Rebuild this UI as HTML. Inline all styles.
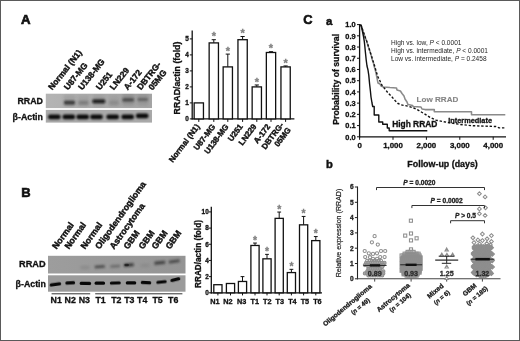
<!DOCTYPE html>
<html lang="en"><head><meta charset="utf-8"><title>RRAD figure</title>
<style>html,body{margin:0;padding:0;background:#fff;}body{width:520px;height:341px;overflow:hidden;}svg{display:block;font-family:'Liberation Sans', Arial, Helvetica, sans-serif;}</style></head><body>
<svg width="520" height="341" viewBox="0 0 520 341">
<defs><filter id="b0" x="-30%" y="-80%" width="160%" height="260%"><feGaussianBlur stdDeviation="0.7"/></filter><filter id="b1" x="-30%" y="-80%" width="160%" height="260%"><feGaussianBlur stdDeviation="0.9"/></filter><filter id="b2" x="-30%" y="-80%" width="160%" height="260%"><feGaussianBlur stdDeviation="1.4"/></filter><filter id="b3" x="-30%" y="-80%" width="160%" height="260%"><feGaussianBlur stdDeviation="2.2"/></filter><filter id="tb"><feGaussianBlur stdDeviation="0.3"/></filter><linearGradient id="gA" x1="0" x2="1" y1="0" y2="0"><stop offset="0" stop-color="#b4b4b4"/><stop offset="1" stop-color="#a4a4a4"/></linearGradient><linearGradient id="gB" x1="0" x2="1" y1="0" y2="0"><stop offset="0" stop-color="#9d9d9d"/><stop offset="1" stop-color="#949494"/></linearGradient></defs>
<rect x="0" y="0" width="520" height="341" fill="#fff"/>
<text x="20.90" y="23.50" font-size="13.2" font-weight="bold" text-anchor="start" fill="#111" stroke="#111" stroke-width="0.7">A</text>
<text x="21.30" y="197.10" font-size="13" font-weight="bold" text-anchor="start" fill="#111" stroke="#111" stroke-width="0.6">B</text>
<text x="303.20" y="23.50" font-size="12.8" font-weight="bold" text-anchor="start" fill="#111" stroke="#111" stroke-width="0.6">C</text>
<text x="326.00" y="24.90" font-size="11.5" font-weight="bold" text-anchor="start" fill="#111" stroke="#111" stroke-width="0.45">a</text>
<text x="326.10" y="168.10" font-size="11.2" font-weight="bold" text-anchor="start" fill="#111" stroke="#111" stroke-width="0.45">b</text>
<rect x="45.80" y="93.70" width="106.20" height="14.40" fill="url(#gA)" stroke="none" stroke-width="1"/>
<rect x="45.80" y="109.90" width="106.20" height="12.70" fill="#a9a9a9" stroke="none" stroke-width="1"/>
<clipPath id="cA1"><rect x="45.8" y="93.7" width="106.2" height="14.4"/></clipPath>
<clipPath id="cA2"><rect x="45.8" y="109.9" width="106.2" height="12.7"/></clipPath>
<g clip-path="url(#cA1)">
<rect x="63.75" y="95.00" width="11.5" height="12.0" rx="1.2" fill="#444" opacity="0.13" filter="url(#b2)"/>
<rect x="77.90" y="95.00" width="11.0" height="12.0" rx="1.2" fill="#444" opacity="0.1" filter="url(#b2)"/>
<rect x="92.80" y="95.00" width="12.0" height="12.0" rx="1.2" fill="#444" opacity="0.13" filter="url(#b2)"/>
<rect x="108.30" y="95.00" width="11.0" height="12.0" rx="1.2" fill="#444" opacity="0.08" filter="url(#b2)"/>
<rect x="64.00" y="100.70" width="11.0" height="3.8" rx="1.2" fill="#1c1c1c" opacity="0.78" filter="url(#b1)"/>
<rect x="78.40" y="101.00" width="10.0" height="3.6" rx="1.2" fill="#333" opacity="0.4" filter="url(#b2)"/>
<rect x="92.40" y="99.50" width="12.8" height="3.8" rx="1.2" fill="#080808" opacity="0.92" filter="url(#b1)"/>
<rect x="108.80" y="100.80" width="10.0" height="4.0" rx="1.2" fill="#444" opacity="0.25" filter="url(#b2)"/>
<rect x="122.45" y="98.20" width="11.5" height="3.2" rx="1.2" fill="#222" opacity="0.7" filter="url(#b1)"/>
<rect x="122.20" y="93.50" width="12.0" height="12.0" rx="1.2" fill="#444" opacity="0.22" filter="url(#b2)"/>
<rect x="137.45" y="97.90" width="10.5" height="3.0" rx="1.2" fill="#2a2a2a" opacity="0.5" filter="url(#b1)"/>
<rect x="137.20" y="93.50" width="11.0" height="12.0" rx="1.2" fill="#555" opacity="0.18" filter="url(#b2)"/>
</g>
<g clip-path="url(#cA2)">
<rect x="48.10" y="114.40" width="12.4" height="4.8" rx="1.8" fill="#050505" opacity="0.95" filter="url(#b1)"/>
<rect x="62.60" y="114.40" width="12.4" height="4.8" rx="1.8" fill="#050505" opacity="0.95" filter="url(#b1)"/>
<rect x="76.50" y="114.40" width="12.4" height="4.8" rx="1.8" fill="#050505" opacity="0.95" filter="url(#b1)"/>
<rect x="90.30" y="114.40" width="12.4" height="4.8" rx="1.8" fill="#050505" opacity="0.95" filter="url(#b1)"/>
<rect x="106.50" y="114.40" width="12.4" height="4.8" rx="1.8" fill="#050505" opacity="0.95" filter="url(#b1)"/>
<rect x="121.50" y="114.40" width="12.4" height="4.8" rx="1.8" fill="#050505" opacity="0.95" filter="url(#b1)"/>
<rect x="136.00" y="113.40" width="12.4" height="4.8" rx="1.8" fill="#050505" opacity="0.95" filter="url(#b1)"/>
</g>
<text x="42.90" y="104.30" font-size="8.8" font-weight="bold" text-anchor="end" fill="#111" stroke="#111" stroke-width="0.3">RRAD</text>
<text x="42.90" y="119.50" font-size="8.8" font-weight="bold" text-anchor="end" fill="#111" stroke="#111" stroke-width="0.3">β-Actin</text>
<text x="0" y="0" transform="translate(52.30,90.60) rotate(-51.5)" font-size="8.5" font-weight="bold" text-anchor="start" fill="#111" stroke="#111" stroke-width="0.42">Normal (N1)</text>
<text x="0" y="0" transform="translate(68.10,90.60) rotate(-51.5)" font-size="8.5" font-weight="bold" text-anchor="start" fill="#111" stroke="#111" stroke-width="0.42">U87-MG</text>
<text x="0" y="0" transform="translate(82.30,90.60) rotate(-51.5)" font-size="8.5" font-weight="bold" text-anchor="start" fill="#111" stroke="#111" stroke-width="0.42">U138-MG</text>
<text x="0" y="0" transform="translate(100.10,90.60) rotate(-51.5)" font-size="8.5" font-weight="bold" text-anchor="start" fill="#111" stroke="#111" stroke-width="0.42">U251</text>
<text x="0" y="0" transform="translate(113.80,90.60) rotate(-51.5)" font-size="8.5" font-weight="bold" text-anchor="start" fill="#111" stroke="#111" stroke-width="0.42">LN229</text>
<text x="0" y="0" transform="translate(127.80,90.60) rotate(-51.5)" font-size="8.5" font-weight="bold" text-anchor="start" fill="#111" stroke="#111" stroke-width="0.42">A-172</text>
<text x="0" y="0" transform="translate(140.90,90.60) rotate(-51.5)" font-size="8.5" font-weight="bold" text-anchor="start" fill="#111" stroke="#111" stroke-width="0.42">DBTRG-</text>
<text x="0" y="0" transform="translate(152.60,90.80) rotate(-51.5)" font-size="8.5" font-weight="bold" text-anchor="start" fill="#111" stroke="#111" stroke-width="0.42">05MG</text>
<line x1="192.20" y1="30.50" x2="192.20" y2="119.50" stroke="#111" stroke-width="1.3"/>
<line x1="191.60" y1="118.90" x2="294.40" y2="118.90" stroke="#111" stroke-width="1.3"/>
<line x1="189.80" y1="118.90" x2="192.20" y2="118.90" stroke="#111" stroke-width="1.0"/>
<text x="188.80" y="121.20" font-size="6.4" font-weight="bold" text-anchor="end" fill="#111" stroke="#111" stroke-width="0.3">0</text>
<line x1="189.80" y1="102.90" x2="192.20" y2="102.90" stroke="#111" stroke-width="1.0"/>
<text x="188.80" y="105.20" font-size="6.4" font-weight="bold" text-anchor="end" fill="#111" stroke="#111" stroke-width="0.3">1</text>
<line x1="189.80" y1="86.90" x2="192.20" y2="86.90" stroke="#111" stroke-width="1.0"/>
<text x="188.80" y="89.20" font-size="6.4" font-weight="bold" text-anchor="end" fill="#111" stroke="#111" stroke-width="0.3">2</text>
<line x1="189.80" y1="70.90" x2="192.20" y2="70.90" stroke="#111" stroke-width="1.0"/>
<text x="188.80" y="73.20" font-size="6.4" font-weight="bold" text-anchor="end" fill="#111" stroke="#111" stroke-width="0.3">3</text>
<line x1="189.80" y1="54.90" x2="192.20" y2="54.90" stroke="#111" stroke-width="1.0"/>
<text x="188.80" y="57.20" font-size="6.4" font-weight="bold" text-anchor="end" fill="#111" stroke="#111" stroke-width="0.3">4</text>
<line x1="189.80" y1="38.90" x2="192.20" y2="38.90" stroke="#111" stroke-width="1.0"/>
<text x="188.80" y="41.20" font-size="6.4" font-weight="bold" text-anchor="end" fill="#111" stroke="#111" stroke-width="0.3">5</text>
<text x="0" y="0" transform="translate(180.00,78.00) rotate(-90)" font-size="8.8" font-weight="bold" text-anchor="middle" fill="#111" stroke="#111" stroke-width="0.3">RRAD/actin (fold)</text>
<rect x="194.15" y="102.90" width="9.30" height="16.00" fill="#fff" stroke="#111" stroke-width="1.3"/>
<line x1="198.80" y1="118.90" x2="198.80" y2="121.90" stroke="#111" stroke-width="1.0"/>
<line x1="213.80" y1="42.90" x2="213.80" y2="39.70" stroke="#111" stroke-width="1.0"/>
<line x1="211.70" y1="39.70" x2="215.90" y2="39.70" stroke="#111" stroke-width="1.0"/>
<rect x="209.15" y="42.90" width="9.30" height="76.00" fill="#fff" stroke="#111" stroke-width="1.3"/>
<line x1="213.80" y1="118.90" x2="213.80" y2="121.90" stroke="#111" stroke-width="1.0"/>
<text x="213.80" y="40.30" font-size="11" font-weight="bold" text-anchor="middle" fill="#808080" stroke="#808080" stroke-width="0.3">*</text>
<line x1="227.80" y1="66.90" x2="227.80" y2="54.10" stroke="#111" stroke-width="1.0"/>
<line x1="225.70" y1="54.10" x2="229.90" y2="54.10" stroke="#111" stroke-width="1.0"/>
<rect x="223.15" y="66.90" width="9.30" height="52.00" fill="#fff" stroke="#111" stroke-width="1.3"/>
<line x1="227.80" y1="118.90" x2="227.80" y2="121.90" stroke="#111" stroke-width="1.0"/>
<text x="227.80" y="54.70" font-size="11" font-weight="bold" text-anchor="middle" fill="#808080" stroke="#808080" stroke-width="0.3">*</text>
<line x1="242.60" y1="39.70" x2="242.60" y2="36.50" stroke="#111" stroke-width="1.0"/>
<line x1="240.50" y1="36.50" x2="244.70" y2="36.50" stroke="#111" stroke-width="1.0"/>
<rect x="237.95" y="39.70" width="9.30" height="79.20" fill="#fff" stroke="#111" stroke-width="1.3"/>
<line x1="242.60" y1="118.90" x2="242.60" y2="121.90" stroke="#111" stroke-width="1.0"/>
<text x="242.60" y="37.10" font-size="11" font-weight="bold" text-anchor="middle" fill="#808080" stroke="#808080" stroke-width="0.3">*</text>
<line x1="256.80" y1="86.90" x2="256.80" y2="84.98" stroke="#111" stroke-width="1.0"/>
<line x1="254.70" y1="84.98" x2="258.90" y2="84.98" stroke="#111" stroke-width="1.0"/>
<rect x="252.15" y="86.90" width="9.30" height="32.00" fill="#fff" stroke="#111" stroke-width="1.3"/>
<line x1="256.80" y1="118.90" x2="256.80" y2="121.90" stroke="#111" stroke-width="1.0"/>
<text x="256.80" y="85.58" font-size="11" font-weight="bold" text-anchor="middle" fill="#808080" stroke="#808080" stroke-width="0.3">*</text>
<line x1="271.00" y1="52.50" x2="271.00" y2="51.70" stroke="#111" stroke-width="1.0"/>
<line x1="268.90" y1="51.70" x2="273.10" y2="51.70" stroke="#111" stroke-width="1.0"/>
<rect x="266.35" y="52.50" width="9.30" height="66.40" fill="#fff" stroke="#111" stroke-width="1.3"/>
<line x1="271.00" y1="118.90" x2="271.00" y2="121.90" stroke="#111" stroke-width="1.0"/>
<text x="271.00" y="52.30" font-size="11" font-weight="bold" text-anchor="middle" fill="#808080" stroke="#808080" stroke-width="0.3">*</text>
<line x1="285.60" y1="66.90" x2="285.60" y2="65.94" stroke="#111" stroke-width="1.0"/>
<line x1="283.50" y1="65.94" x2="287.70" y2="65.94" stroke="#111" stroke-width="1.0"/>
<rect x="280.95" y="66.90" width="9.30" height="52.00" fill="#fff" stroke="#111" stroke-width="1.3"/>
<line x1="285.60" y1="118.90" x2="285.60" y2="121.90" stroke="#111" stroke-width="1.0"/>
<text x="285.60" y="66.54" font-size="11" font-weight="bold" text-anchor="middle" fill="#808080" stroke="#808080" stroke-width="0.3">*</text>
<text x="0" y="0" transform="translate(200.10,126.70) rotate(-53)" font-size="8.0" font-weight="bold" text-anchor="end" fill="#111" stroke="#111" stroke-width="0.42">Normal (N1)</text>
<text x="0" y="0" transform="translate(215.70,126.70) rotate(-53)" font-size="8.0" font-weight="bold" text-anchor="end" fill="#111" stroke="#111" stroke-width="0.42">U87-MG</text>
<text x="0" y="0" transform="translate(229.10,126.70) rotate(-53)" font-size="8.0" font-weight="bold" text-anchor="end" fill="#111" stroke="#111" stroke-width="0.42">U138-MG</text>
<text x="0" y="0" transform="translate(243.30,126.70) rotate(-53)" font-size="8.0" font-weight="bold" text-anchor="end" fill="#111" stroke="#111" stroke-width="0.42">U251</text>
<text x="0" y="0" transform="translate(256.90,126.70) rotate(-53)" font-size="8.0" font-weight="bold" text-anchor="end" fill="#111" stroke="#111" stroke-width="0.42">LN229</text>
<text x="0" y="0" transform="translate(270.70,126.70) rotate(-53)" font-size="8.0" font-weight="bold" text-anchor="end" fill="#111" stroke="#111" stroke-width="0.42">A-172</text>
<text x="0" y="0" transform="translate(284.10,125.10) rotate(-53)" font-size="8.0" font-weight="bold" text-anchor="end" fill="#111" stroke="#111" stroke-width="0.42">DBTRG-</text>
<text x="0" y="0" transform="translate(291.30,129.90) rotate(-53)" font-size="8.0" font-weight="bold" text-anchor="end" fill="#111" stroke="#111" stroke-width="0.42">05MG</text>
<rect x="48.00" y="255.80" width="137.50" height="17.70" fill="url(#gB)" stroke="none" stroke-width="1"/>
<rect x="48.00" y="275.30" width="137.50" height="16.40" fill="#9b9b9b" stroke="none" stroke-width="1"/>
<clipPath id="cB1"><rect x="48.0" y="255.8" width="137.5" height="17.7"/></clipPath>
<clipPath id="cB2"><rect x="48.0" y="275.3" width="137.5" height="16.4"/></clipPath>
<g clip-path="url(#cB1)">
<rect x="80.50" y="266.00" width="9" height="3.0" rx="1.2" fill="#444" opacity="0.2" filter="url(#b2)" transform="rotate(0 85.0 267.5)"/>
<rect x="94.55" y="265.30" width="10.5" height="3.0" rx="1.2" fill="#222" opacity="0.6" filter="url(#b1)" transform="rotate(-4 99.8 266.8)"/>
<rect x="110.20" y="264.70" width="10.0" height="3.0" rx="1.2" fill="#333" opacity="0.4" filter="url(#b1)" transform="rotate(-4 115.2 266.2)"/>
<rect x="123.80" y="263.50" width="10.0" height="3.0" rx="1.2" fill="#111" opacity="0.72" filter="url(#b1)" transform="rotate(-5 128.8 265.0)"/>
<rect x="124.35" y="263.70" width="4.5" height="2.6" rx="1.2" fill="#000" opacity="0.55" filter="url(#b0)" transform="rotate(0 126.6 265.0)"/>
<rect x="140.50" y="263.90" width="9.0" height="3.0" rx="1.2" fill="#444" opacity="0.16" filter="url(#b2)" transform="rotate(-4 145.0 265.4)"/>
<rect x="154.30" y="261.10" width="11.0" height="3.4" rx="1.2" fill="#222" opacity="0.66" filter="url(#b1)" transform="rotate(-6 159.8 262.8)"/>
<rect x="168.70" y="259.70" width="11.0" height="3.4" rx="1.2" fill="#222" opacity="0.6" filter="url(#b1)" transform="rotate(-8 174.2 261.4)"/>
</g>
<g clip-path="url(#cB2)">
<rect x="49.65" y="282.80" width="11.5" height="3.2" rx="1.5" fill="#060606" opacity="0.95" filter="url(#b0)" transform="rotate(-8 55.4 284.4)"/>
<rect x="65.30" y="281.30" width="9.8" height="3.2" rx="1.5" fill="#060606" opacity="0.95" filter="url(#b0)" transform="rotate(-3 70.2 282.9)"/>
<rect x="79.65" y="281.80" width="11.5" height="3.2" rx="1.5" fill="#060606" opacity="0.95" filter="url(#b0)" transform="rotate(1 85.4 283.4)"/>
<rect x="94.55" y="281.50" width="10.5" height="3.2" rx="1.5" fill="#060606" opacity="0.95" filter="url(#b0)" transform="rotate(0 99.8 283.1)"/>
<rect x="109.80" y="281.40" width="11.0" height="3.2" rx="1.5" fill="#060606" opacity="0.95" filter="url(#b0)" transform="rotate(-2 115.3 283.0)"/>
<rect x="125.75" y="281.20" width="10.5" height="3.2" rx="1.5" fill="#060606" opacity="0.95" filter="url(#b0)" transform="rotate(0 131.0 282.8)"/>
<rect x="140.75" y="281.10" width="10.5" height="3.2" rx="1.5" fill="#060606" opacity="0.95" filter="url(#b0)" transform="rotate(3 146.0 282.7)"/>
<rect x="156.25" y="280.40" width="10.5" height="3.2" rx="1.5" fill="#060606" opacity="0.95" filter="url(#b0)" transform="rotate(-6 161.5 282.0)"/>
<rect x="170.30" y="278.00" width="10.0" height="3.2" rx="1.5" fill="#060606" opacity="0.95" filter="url(#b0)" transform="rotate(-14 175.3 279.6)"/>
</g>
<text x="45.60" y="267.40" font-size="9.2" font-weight="bold" text-anchor="end" fill="#111" stroke="#111" stroke-width="0.3">RRAD</text>
<text x="45.90" y="286.70" font-size="8.8" font-weight="bold" text-anchor="end" fill="#111" stroke="#111" stroke-width="0.3">β-Actin</text>
<line x1="51.60" y1="293.80" x2="90.20" y2="293.80" stroke="#333" stroke-width="1.0"/>
<line x1="95.20" y1="293.80" x2="182.40" y2="293.80" stroke="#333" stroke-width="1.0"/>
<text x="56.20" y="302.50" font-size="8.8" font-weight="bold" text-anchor="middle" fill="#111" stroke="#111" stroke-width="0.3">N1</text>
<text x="70.20" y="302.50" font-size="8.8" font-weight="bold" text-anchor="middle" fill="#111" stroke="#111" stroke-width="0.3">N2</text>
<text x="84.40" y="302.50" font-size="8.8" font-weight="bold" text-anchor="middle" fill="#111" stroke="#111" stroke-width="0.3">N3</text>
<text x="100.60" y="302.50" font-size="8.8" font-weight="bold" text-anchor="middle" fill="#111" stroke="#111" stroke-width="0.3">T1</text>
<text x="116.30" y="302.50" font-size="8.8" font-weight="bold" text-anchor="middle" fill="#111" stroke="#111" stroke-width="0.3">T2</text>
<text x="129.30" y="302.50" font-size="8.8" font-weight="bold" text-anchor="middle" fill="#111" stroke="#111" stroke-width="0.3">T3</text>
<text x="142.20" y="302.50" font-size="8.8" font-weight="bold" text-anchor="middle" fill="#111" stroke="#111" stroke-width="0.3">T4</text>
<text x="157.60" y="302.50" font-size="8.8" font-weight="bold" text-anchor="middle" fill="#111" stroke="#111" stroke-width="0.3">T5</text>
<text x="173.20" y="302.50" font-size="8.8" font-weight="bold" text-anchor="middle" fill="#111" stroke="#111" stroke-width="0.3">T6</text>
<text x="0" y="0" transform="translate(56.60,249.80) rotate(-54.5)" font-size="8.8" font-weight="bold" text-anchor="start" fill="#111" stroke="#111" stroke-width="0.42">Normal</text>
<text x="0" y="0" transform="translate(68.90,249.80) rotate(-54.5)" font-size="8.8" font-weight="bold" text-anchor="start" fill="#111" stroke="#111" stroke-width="0.42">Normal</text>
<text x="0" y="0" transform="translate(85.00,249.80) rotate(-54.5)" font-size="8.8" font-weight="bold" text-anchor="start" fill="#111" stroke="#111" stroke-width="0.42">Normal</text>
<text x="0" y="0" transform="translate(99.50,249.80) rotate(-54.5)" font-size="8.8" font-weight="bold" text-anchor="start" fill="#111" stroke="#111" stroke-width="0.42">Oligodendroglioma</text>
<text x="0" y="0" transform="translate(114.00,249.80) rotate(-54.5)" font-size="8.8" font-weight="bold" text-anchor="start" fill="#111" stroke="#111" stroke-width="0.42">Astrocytoma</text>
<text x="0" y="0" transform="translate(128.00,249.80) rotate(-54.5)" font-size="8.8" font-weight="bold" text-anchor="start" fill="#111" stroke="#111" stroke-width="0.42">GBM</text>
<text x="0" y="0" transform="translate(143.00,249.80) rotate(-54.5)" font-size="8.8" font-weight="bold" text-anchor="start" fill="#111" stroke="#111" stroke-width="0.42">GBM</text>
<text x="0" y="0" transform="translate(156.00,249.80) rotate(-54.5)" font-size="8.8" font-weight="bold" text-anchor="start" fill="#111" stroke="#111" stroke-width="0.42">GBM</text>
<text x="0" y="0" transform="translate(169.90,249.80) rotate(-54.5)" font-size="8.8" font-weight="bold" text-anchor="start" fill="#111" stroke="#111" stroke-width="0.42">GBM</text>
<line x1="211.30" y1="206.80" x2="211.30" y2="293.40" stroke="#111" stroke-width="1.3"/>
<line x1="210.70" y1="292.80" x2="322.00" y2="292.80" stroke="#111" stroke-width="1.3"/>
<line x1="208.90" y1="292.80" x2="211.30" y2="292.80" stroke="#111" stroke-width="1.0"/>
<text x="208.70" y="295.10" font-size="6.4" font-weight="bold" text-anchor="end" fill="#111" stroke="#111" stroke-width="0.3">0</text>
<line x1="208.90" y1="276.62" x2="211.30" y2="276.62" stroke="#111" stroke-width="1.0"/>
<text x="208.70" y="278.92" font-size="6.4" font-weight="bold" text-anchor="end" fill="#111" stroke="#111" stroke-width="0.3">2</text>
<line x1="208.90" y1="260.44" x2="211.30" y2="260.44" stroke="#111" stroke-width="1.0"/>
<text x="208.70" y="262.74" font-size="6.4" font-weight="bold" text-anchor="end" fill="#111" stroke="#111" stroke-width="0.3">4</text>
<line x1="208.90" y1="244.26" x2="211.30" y2="244.26" stroke="#111" stroke-width="1.0"/>
<text x="208.70" y="246.56" font-size="6.4" font-weight="bold" text-anchor="end" fill="#111" stroke="#111" stroke-width="0.3">6</text>
<line x1="208.90" y1="228.08" x2="211.30" y2="228.08" stroke="#111" stroke-width="1.0"/>
<text x="208.70" y="230.38" font-size="6.4" font-weight="bold" text-anchor="end" fill="#111" stroke="#111" stroke-width="0.3">8</text>
<line x1="208.90" y1="211.90" x2="211.30" y2="211.90" stroke="#111" stroke-width="1.0"/>
<text x="208.70" y="214.20" font-size="6.4" font-weight="bold" text-anchor="end" fill="#111" stroke="#111" stroke-width="0.3">10</text>
<text x="0" y="0" transform="translate(200.80,254.00) rotate(-90)" font-size="8.2" font-weight="bold" text-anchor="middle" fill="#111" stroke="#111" stroke-width="0.3">RRAD/actin (fold)</text>
<rect x="213.80" y="284.71" width="8.20" height="8.09" fill="#fff" stroke="#111" stroke-width="1.3"/>
<line x1="217.90" y1="292.80" x2="217.90" y2="295.40" stroke="#111" stroke-width="1.0"/>
<rect x="226.40" y="283.50" width="8.20" height="9.30" fill="#fff" stroke="#111" stroke-width="1.3"/>
<line x1="230.50" y1="292.80" x2="230.50" y2="295.40" stroke="#111" stroke-width="1.0"/>
<line x1="242.50" y1="281.47" x2="242.50" y2="276.62" stroke="#111" stroke-width="1.0"/>
<line x1="240.60" y1="276.62" x2="244.40" y2="276.62" stroke="#111" stroke-width="1.0"/>
<rect x="238.40" y="281.47" width="8.20" height="11.33" fill="#fff" stroke="#111" stroke-width="1.3"/>
<line x1="242.50" y1="292.80" x2="242.50" y2="295.40" stroke="#111" stroke-width="1.0"/>
<line x1="255.00" y1="245.47" x2="255.00" y2="243.05" stroke="#111" stroke-width="1.0"/>
<line x1="253.10" y1="243.05" x2="256.90" y2="243.05" stroke="#111" stroke-width="1.0"/>
<rect x="250.90" y="245.47" width="8.20" height="47.33" fill="#fff" stroke="#111" stroke-width="1.3"/>
<line x1="255.00" y1="292.80" x2="255.00" y2="295.40" stroke="#111" stroke-width="1.0"/>
<text x="255.00" y="243.95" font-size="10.4" font-weight="bold" text-anchor="middle" fill="#808080" stroke="#808080" stroke-width="0.3">*</text>
<line x1="267.00" y1="258.82" x2="267.00" y2="254.37" stroke="#111" stroke-width="1.0"/>
<line x1="265.10" y1="254.37" x2="268.90" y2="254.37" stroke="#111" stroke-width="1.0"/>
<rect x="262.90" y="258.82" width="8.20" height="33.98" fill="#fff" stroke="#111" stroke-width="1.3"/>
<line x1="267.00" y1="292.80" x2="267.00" y2="295.40" stroke="#111" stroke-width="1.0"/>
<text x="267.00" y="255.27" font-size="10.4" font-weight="bold" text-anchor="middle" fill="#808080" stroke="#808080" stroke-width="0.3">*</text>
<line x1="279.20" y1="218.37" x2="279.20" y2="212.06" stroke="#111" stroke-width="1.0"/>
<line x1="277.30" y1="212.06" x2="281.10" y2="212.06" stroke="#111" stroke-width="1.0"/>
<rect x="275.10" y="218.37" width="8.20" height="74.43" fill="#fff" stroke="#111" stroke-width="1.3"/>
<line x1="279.20" y1="292.80" x2="279.20" y2="295.40" stroke="#111" stroke-width="1.0"/>
<text x="279.20" y="212.96" font-size="10.4" font-weight="bold" text-anchor="middle" fill="#808080" stroke="#808080" stroke-width="0.3">*</text>
<line x1="291.40" y1="272.57" x2="291.40" y2="269.34" stroke="#111" stroke-width="1.0"/>
<line x1="289.50" y1="269.34" x2="293.30" y2="269.34" stroke="#111" stroke-width="1.0"/>
<rect x="287.30" y="272.57" width="8.20" height="20.23" fill="#fff" stroke="#111" stroke-width="1.3"/>
<line x1="291.40" y1="292.80" x2="291.40" y2="295.40" stroke="#111" stroke-width="1.0"/>
<text x="291.40" y="270.24" font-size="10.4" font-weight="bold" text-anchor="middle" fill="#808080" stroke="#808080" stroke-width="0.3">*</text>
<line x1="303.60" y1="224.84" x2="303.60" y2="216.43" stroke="#111" stroke-width="1.0"/>
<line x1="301.70" y1="216.43" x2="305.50" y2="216.43" stroke="#111" stroke-width="1.0"/>
<rect x="299.50" y="224.84" width="8.20" height="67.96" fill="#fff" stroke="#111" stroke-width="1.3"/>
<line x1="303.60" y1="292.80" x2="303.60" y2="295.40" stroke="#111" stroke-width="1.0"/>
<text x="303.60" y="217.33" font-size="10.4" font-weight="bold" text-anchor="middle" fill="#808080" stroke="#808080" stroke-width="0.3">*</text>
<line x1="315.80" y1="240.62" x2="315.80" y2="236.57" stroke="#111" stroke-width="1.0"/>
<line x1="313.90" y1="236.57" x2="317.70" y2="236.57" stroke="#111" stroke-width="1.0"/>
<rect x="311.70" y="240.62" width="8.20" height="52.18" fill="#fff" stroke="#111" stroke-width="1.3"/>
<line x1="315.80" y1="292.80" x2="315.80" y2="295.40" stroke="#111" stroke-width="1.0"/>
<text x="315.80" y="237.47" font-size="10.4" font-weight="bold" text-anchor="middle" fill="#808080" stroke="#808080" stroke-width="0.3">*</text>
<text x="214.80" y="303.80" font-size="7.3" font-weight="bold" text-anchor="middle" fill="#111" stroke="#111" stroke-width="0.3">N1</text>
<text x="228.00" y="303.80" font-size="7.3" font-weight="bold" text-anchor="middle" fill="#111" stroke="#111" stroke-width="0.3">N2</text>
<text x="241.60" y="303.80" font-size="7.3" font-weight="bold" text-anchor="middle" fill="#111" stroke="#111" stroke-width="0.3">N3</text>
<text x="254.70" y="303.80" font-size="7.3" font-weight="bold" text-anchor="middle" fill="#111" stroke="#111" stroke-width="0.3">T1</text>
<text x="267.30" y="303.80" font-size="7.3" font-weight="bold" text-anchor="middle" fill="#111" stroke="#111" stroke-width="0.3">T2</text>
<text x="279.80" y="303.80" font-size="7.3" font-weight="bold" text-anchor="middle" fill="#111" stroke="#111" stroke-width="0.3">T3</text>
<text x="292.40" y="303.80" font-size="7.3" font-weight="bold" text-anchor="middle" fill="#111" stroke="#111" stroke-width="0.3">T4</text>
<text x="304.90" y="303.80" font-size="7.3" font-weight="bold" text-anchor="middle" fill="#111" stroke="#111" stroke-width="0.3">T5</text>
<text x="317.40" y="303.80" font-size="7.3" font-weight="bold" text-anchor="middle" fill="#111" stroke="#111" stroke-width="0.3">T6</text>
<line x1="359.60" y1="24.00" x2="359.60" y2="137.40" stroke="#111" stroke-width="1.3"/>
<line x1="359.00" y1="136.80" x2="506.00" y2="136.80" stroke="#111" stroke-width="1.3"/>
<line x1="357.00" y1="136.80" x2="359.60" y2="136.80" stroke="#111" stroke-width="1.0"/>
<text x="355.60" y="139.50" font-size="7.4" font-weight="bold" text-anchor="end" fill="#111" stroke="#111" stroke-width="0.3">0.0</text>
<line x1="357.00" y1="125.58" x2="359.60" y2="125.58" stroke="#111" stroke-width="1.0"/>
<text x="355.60" y="128.28" font-size="7.4" font-weight="bold" text-anchor="end" fill="#111" stroke="#111" stroke-width="0.3">0.1</text>
<line x1="357.00" y1="114.36" x2="359.60" y2="114.36" stroke="#111" stroke-width="1.0"/>
<text x="355.60" y="117.06" font-size="7.4" font-weight="bold" text-anchor="end" fill="#111" stroke="#111" stroke-width="0.3">0.2</text>
<line x1="357.00" y1="103.14" x2="359.60" y2="103.14" stroke="#111" stroke-width="1.0"/>
<text x="355.60" y="105.84" font-size="7.4" font-weight="bold" text-anchor="end" fill="#111" stroke="#111" stroke-width="0.3">0.3</text>
<line x1="357.00" y1="91.92" x2="359.60" y2="91.92" stroke="#111" stroke-width="1.0"/>
<text x="355.60" y="94.62" font-size="7.4" font-weight="bold" text-anchor="end" fill="#111" stroke="#111" stroke-width="0.3">0.4</text>
<line x1="357.00" y1="80.70" x2="359.60" y2="80.70" stroke="#111" stroke-width="1.0"/>
<text x="355.60" y="83.40" font-size="7.4" font-weight="bold" text-anchor="end" fill="#111" stroke="#111" stroke-width="0.3">0.5</text>
<line x1="357.00" y1="69.48" x2="359.60" y2="69.48" stroke="#111" stroke-width="1.0"/>
<text x="355.60" y="72.18" font-size="7.4" font-weight="bold" text-anchor="end" fill="#111" stroke="#111" stroke-width="0.3">0.6</text>
<line x1="357.00" y1="58.26" x2="359.60" y2="58.26" stroke="#111" stroke-width="1.0"/>
<text x="355.60" y="60.96" font-size="7.4" font-weight="bold" text-anchor="end" fill="#111" stroke="#111" stroke-width="0.3">0.7</text>
<line x1="357.00" y1="47.04" x2="359.60" y2="47.04" stroke="#111" stroke-width="1.0"/>
<text x="355.60" y="49.74" font-size="7.4" font-weight="bold" text-anchor="end" fill="#111" stroke="#111" stroke-width="0.3">0.8</text>
<line x1="357.00" y1="35.82" x2="359.60" y2="35.82" stroke="#111" stroke-width="1.0"/>
<text x="355.60" y="38.52" font-size="7.4" font-weight="bold" text-anchor="end" fill="#111" stroke="#111" stroke-width="0.3">0.9</text>
<line x1="357.00" y1="24.60" x2="359.60" y2="24.60" stroke="#111" stroke-width="1.0"/>
<text x="355.60" y="27.30" font-size="7.4" font-weight="bold" text-anchor="end" fill="#111" stroke="#111" stroke-width="0.3">1.0</text>
<line x1="359.60" y1="136.80" x2="359.60" y2="139.80" stroke="#111" stroke-width="1.0"/>
<text x="359.60" y="148.20" font-size="7.9" font-weight="bold" text-anchor="middle" fill="#111" stroke="#111" stroke-width="0.3">0</text>
<line x1="393.00" y1="136.80" x2="393.00" y2="139.80" stroke="#111" stroke-width="1.0"/>
<text x="393.00" y="148.20" font-size="7.9" font-weight="bold" text-anchor="middle" fill="#111" stroke="#111" stroke-width="0.3">1,000</text>
<line x1="426.40" y1="136.80" x2="426.40" y2="139.80" stroke="#111" stroke-width="1.0"/>
<text x="426.40" y="148.20" font-size="7.9" font-weight="bold" text-anchor="middle" fill="#111" stroke="#111" stroke-width="0.3">2,000</text>
<line x1="459.80" y1="136.80" x2="459.80" y2="139.80" stroke="#111" stroke-width="1.0"/>
<text x="459.80" y="148.20" font-size="7.9" font-weight="bold" text-anchor="middle" fill="#111" stroke="#111" stroke-width="0.3">3,000</text>
<line x1="493.20" y1="136.80" x2="493.20" y2="139.80" stroke="#111" stroke-width="1.0"/>
<text x="493.20" y="148.20" font-size="7.9" font-weight="bold" text-anchor="middle" fill="#111" stroke="#111" stroke-width="0.3">4,000</text>
<text x="0" y="0" transform="translate(339.10,79.30) rotate(-90)" font-size="8.7" font-weight="bold" text-anchor="middle" fill="#111" stroke="#111" stroke-width="0.3">Probability of survival</text>
<text x="442.60" y="167.00" font-size="8.9" font-weight="bold" text-anchor="middle" fill="#111" stroke="#111" stroke-width="0.3">Follow-up (days)</text>
<text x="391.00" y="44.50" font-size="6.55" font-weight="normal" text-anchor="start" fill="#262626">High vs. low, <tspan font-style="italic">P</tspan> &lt; 0.0001</text>
<text x="391.00" y="52.50" font-size="6.55" font-weight="normal" text-anchor="start" fill="#262626">High vs. intermediate, <tspan font-style="italic">P</tspan> &lt; 0.0001</text>
<text x="391.00" y="60.50" font-size="6.55" font-weight="normal" text-anchor="start" fill="#262626">Low vs. intermediate, <tspan font-style="italic">P</tspan> = 0.2458</text>
<polyline points="360.4,24.6 361.4,26.0 362.2,28.5 363.1,31.5 364.4,35.0 365.6,38.5 366.8,41.4 367.8,45.0 368.8,48.0 369.9,51.3 370.8,54.0 371.6,57.0 372.3,59.9 373.0,61.5 373.5,63.0 374.0,66.0 375.0,69.0 376.0,73.0 377.0,78.0 378.0,83.0 380.0,84.0 381.0,86.0 383.5,87.0 390.0,87.6 396.5,88.0 397.0,90.0 400.4,91.0 402.0,93.5 404.0,96.0 405.0,99.0 407.0,102.0 408.0,104.6 412.7,105.4 413.0,106.6 421.0,107.0 422.0,109.0 425.0,109.6 434.3,109.6 434.3,111.8 471.5,111.8 471.5,114.8 505.3,114.8" fill="none" stroke="#8a8a8a" stroke-width="1.55" stroke-linejoin="round"/>
<polyline points="360.4,24.6 361.4,26.0 362.2,28.5 363.1,31.5 364.4,35.0 365.6,38.5 366.8,41.4 367.8,44.5 368.8,47.5 369.9,51.3 370.8,54.0 371.6,56.5 372.4,59.0 373.0,61.0 374.0,64.0 375.0,67.0 376.0,71.0 377.0,74.0 378.0,77.0 380.0,81.0 382.0,85.4 385.0,89.0 388.0,93.0 392.0,97.0 395.0,100.5 398.0,103.5 401.0,104.8 409.0,106.4 414.0,108.2 418.0,110.0 424.0,113.6 430.0,117.4 436.0,120.2 447.3,122.4 460.0,124.4 471.5,125.7 495.7,126.5 499.2,127.9 505.3,127.9" fill="none" stroke="#111" stroke-width="1.4" stroke-linejoin="round" stroke-dasharray="2.4 1.8"/>
<polyline points="360.4,24.6 361.2,26.0 361.9,28.5 362.5,31.5 363.4,36.0 364.3,41.4 364.8,46.0 365.3,51.3 365.8,56.0 366.2,60.0 367.0,66.0 368.0,70.0 368.8,75.4 369.6,84.0 370.4,91.0 371.0,97.0 372.0,103.0 372.7,106.5 374.2,106.5 374.2,115.0 378.8,115.0 378.8,122.0 382.7,122.0 382.7,124.2 387.3,124.2 387.3,128.0 389.2,128.0 389.2,130.7 427.3,130.7" fill="none" stroke="#111" stroke-width="1.4" stroke-linejoin="round"/>
<text x="416.60" y="101.80" font-size="8.1" font-weight="bold" text-anchor="start" fill="#858585" stroke="#858585" stroke-width="0.12">Low RRAD</text>
<text x="392.20" y="126.70" font-size="8.4" font-weight="bold" text-anchor="start" fill="#111" stroke="#111" stroke-width="0.3">High RRAD</text>
<text x="448.30" y="123.40" font-size="7.35" font-weight="bold" text-anchor="start" fill="#111" stroke="#111" stroke-width="0.3">Intermediate</text>
<line x1="357.50" y1="186.50" x2="357.50" y2="279.30" stroke="#222" stroke-width="1.1"/>
<line x1="357.00" y1="278.80" x2="500.50" y2="278.80" stroke="#444" stroke-width="1.1"/>
<line x1="354.90" y1="278.80" x2="357.50" y2="278.80" stroke="#222" stroke-width="1.0"/>
<text x="353.70" y="281.20" font-size="6.6" font-weight="bold" text-anchor="end" fill="#222" stroke="#222" stroke-width="0.3">0</text>
<line x1="354.90" y1="263.50" x2="357.50" y2="263.50" stroke="#222" stroke-width="1.0"/>
<text x="353.70" y="265.90" font-size="6.6" font-weight="bold" text-anchor="end" fill="#222" stroke="#222" stroke-width="0.3">1</text>
<line x1="354.90" y1="248.20" x2="357.50" y2="248.20" stroke="#222" stroke-width="1.0"/>
<text x="353.70" y="250.60" font-size="6.6" font-weight="bold" text-anchor="end" fill="#222" stroke="#222" stroke-width="0.3">2</text>
<line x1="354.90" y1="232.90" x2="357.50" y2="232.90" stroke="#222" stroke-width="1.0"/>
<text x="353.70" y="235.30" font-size="6.6" font-weight="bold" text-anchor="end" fill="#222" stroke="#222" stroke-width="0.3">3</text>
<line x1="354.90" y1="217.60" x2="357.50" y2="217.60" stroke="#222" stroke-width="1.0"/>
<text x="353.70" y="220.00" font-size="6.6" font-weight="bold" text-anchor="end" fill="#222" stroke="#222" stroke-width="0.3">4</text>
<line x1="354.90" y1="202.30" x2="357.50" y2="202.30" stroke="#222" stroke-width="1.0"/>
<text x="353.70" y="204.70" font-size="6.6" font-weight="bold" text-anchor="end" fill="#222" stroke="#222" stroke-width="0.3">5</text>
<line x1="354.90" y1="187.00" x2="357.50" y2="187.00" stroke="#222" stroke-width="1.0"/>
<text x="353.70" y="189.40" font-size="6.6" font-weight="bold" text-anchor="end" fill="#222" stroke="#222" stroke-width="0.3">6</text>
<text x="0" y="0" transform="translate(340.50,233.00) rotate(-90)" font-size="7.1" font-weight="normal" text-anchor="middle" fill="#222" stroke="#222" stroke-width="0.2">Relative expression (RRAD)</text>
<line x1="374.70" y1="278.80" x2="374.70" y2="281.60" stroke="#444" stroke-width="1.0"/>
<line x1="411.10" y1="278.80" x2="411.10" y2="281.60" stroke="#444" stroke-width="1.0"/>
<line x1="446.70" y1="278.80" x2="446.70" y2="281.60" stroke="#444" stroke-width="1.0"/>
<line x1="482.40" y1="278.80" x2="482.40" y2="281.60" stroke="#444" stroke-width="1.0"/>
<g stroke="#8e8e8e" stroke-width="1.05">
<circle cx="374.60" cy="236.20" r="1.6" fill="#fff"/>
<circle cx="371.90" cy="242.30" r="1.6" fill="#fff"/>
<circle cx="377.80" cy="244.60" r="1.6" fill="#fff"/>
<circle cx="364.70" cy="251.00" r="1.6" fill="#fff"/>
<circle cx="381.00" cy="251.00" r="1.6" fill="#fff"/>
<circle cx="385.20" cy="251.00" r="1.6" fill="#fff"/>
<circle cx="368.80" cy="253.30" r="1.6" fill="#fff"/>
<circle cx="373.00" cy="253.90" r="1.6" fill="#fff"/>
<circle cx="377.00" cy="253.30" r="1.6" fill="#fff"/>
<circle cx="365.20" cy="257.00" r="1.6" fill="#fff"/>
<circle cx="370.00" cy="257.20" r="1.6" fill="#fff"/>
<circle cx="380.20" cy="257.00" r="1.6" fill="#fff"/>
<circle cx="384.60" cy="257.00" r="1.6" fill="#fff"/>
<circle cx="373.00" cy="258.90" r="1.6" fill="#fff"/>
<circle cx="377.00" cy="258.90" r="1.6" fill="#fff"/>
<circle cx="367.20" cy="260.80" r="1.6" fill="none"/>
<circle cx="369.50" cy="260.80" r="1.6" fill="none"/>
<circle cx="371.80" cy="260.80" r="1.6" fill="none"/>
<circle cx="374.10" cy="260.80" r="1.6" fill="none"/>
<circle cx="376.40" cy="260.80" r="1.6" fill="none"/>
<circle cx="378.70" cy="260.80" r="1.6" fill="none"/>
<circle cx="381.00" cy="260.80" r="1.6" fill="none"/>
<circle cx="366.10" cy="262.90" r="1.6" fill="#a6a6a6"/>
<circle cx="368.40" cy="262.90" r="1.6" fill="#a6a6a6"/>
<circle cx="370.70" cy="262.90" r="1.6" fill="#a6a6a6"/>
<circle cx="373.00" cy="262.90" r="1.6" fill="#a6a6a6"/>
<circle cx="375.30" cy="262.90" r="1.6" fill="#a6a6a6"/>
<circle cx="377.60" cy="262.90" r="1.6" fill="#a6a6a6"/>
<circle cx="379.90" cy="262.90" r="1.6" fill="#a6a6a6"/>
<circle cx="382.20" cy="262.90" r="1.6" fill="#a6a6a6"/>
<circle cx="384.50" cy="262.90" r="1.6" fill="#a6a6a6"/>
<circle cx="364.90" cy="265.00" r="1.6" fill="#a6a6a6"/>
<circle cx="367.20" cy="265.00" r="1.6" fill="#a6a6a6"/>
<circle cx="369.50" cy="265.00" r="1.6" fill="#a6a6a6"/>
<circle cx="371.80" cy="265.00" r="1.6" fill="#a6a6a6"/>
<circle cx="374.10" cy="265.00" r="1.6" fill="#a6a6a6"/>
<circle cx="376.40" cy="265.00" r="1.6" fill="#a6a6a6"/>
<circle cx="378.70" cy="265.00" r="1.6" fill="#a6a6a6"/>
<circle cx="381.00" cy="265.00" r="1.6" fill="#a6a6a6"/>
<circle cx="383.30" cy="265.00" r="1.6" fill="#a6a6a6"/>
<circle cx="368.40" cy="267.10" r="1.6" fill="#a6a6a6"/>
<circle cx="370.70" cy="267.10" r="1.6" fill="#a6a6a6"/>
<circle cx="373.00" cy="267.10" r="1.6" fill="#a6a6a6"/>
<circle cx="375.30" cy="267.10" r="1.6" fill="#a6a6a6"/>
<circle cx="377.60" cy="267.10" r="1.6" fill="#a6a6a6"/>
<circle cx="379.90" cy="267.10" r="1.6" fill="#a6a6a6"/>
<circle cx="382.20" cy="267.10" r="1.6" fill="#a6a6a6"/>
<circle cx="368.35" cy="269.20" r="1.6" fill="#a6a6a6"/>
<circle cx="370.65" cy="269.20" r="1.6" fill="#a6a6a6"/>
<circle cx="372.95" cy="269.20" r="1.6" fill="#a6a6a6"/>
<circle cx="375.25" cy="269.20" r="1.6" fill="#a6a6a6"/>
<circle cx="377.55" cy="269.20" r="1.6" fill="#a6a6a6"/>
<circle cx="379.85" cy="269.20" r="1.6" fill="#a6a6a6"/>
<circle cx="367.25" cy="271.30" r="1.6" fill="#a6a6a6"/>
<circle cx="369.55" cy="271.30" r="1.6" fill="#a6a6a6"/>
<circle cx="371.85" cy="271.30" r="1.6" fill="#a6a6a6"/>
<circle cx="374.15" cy="271.30" r="1.6" fill="#a6a6a6"/>
<circle cx="376.45" cy="271.30" r="1.6" fill="#a6a6a6"/>
<circle cx="378.75" cy="271.30" r="1.6" fill="#a6a6a6"/>
<circle cx="381.05" cy="271.30" r="1.6" fill="#a6a6a6"/>
<circle cx="383.35" cy="271.30" r="1.6" fill="#a6a6a6"/>
<circle cx="364.90" cy="273.40" r="1.6" fill="#a6a6a6"/>
<circle cx="367.20" cy="273.40" r="1.6" fill="#a6a6a6"/>
<circle cx="369.50" cy="273.40" r="1.6" fill="#a6a6a6"/>
<circle cx="371.80" cy="273.40" r="1.6" fill="#a6a6a6"/>
<circle cx="374.10" cy="273.40" r="1.6" fill="#a6a6a6"/>
<circle cx="376.40" cy="273.40" r="1.6" fill="#a6a6a6"/>
<circle cx="378.70" cy="273.40" r="1.6" fill="#a6a6a6"/>
<circle cx="381.00" cy="273.40" r="1.6" fill="#a6a6a6"/>
<circle cx="383.30" cy="273.40" r="1.6" fill="#a6a6a6"/>
<circle cx="368.40" cy="275.40" r="1.6" fill="#a6a6a6"/>
<circle cx="370.70" cy="275.40" r="1.6" fill="#a6a6a6"/>
<circle cx="373.00" cy="275.40" r="1.6" fill="#a6a6a6"/>
<circle cx="375.30" cy="275.40" r="1.6" fill="#a6a6a6"/>
<circle cx="377.60" cy="275.40" r="1.6" fill="#a6a6a6"/>
<circle cx="379.90" cy="275.40" r="1.6" fill="#a6a6a6"/>
<circle cx="382.20" cy="275.40" r="1.6" fill="#a6a6a6"/>
</g>
<line x1="363.40" y1="265.40" x2="386.60" y2="265.40" stroke="#222" stroke-width="1.0"/>
<line x1="369.80" y1="265.40" x2="380.20" y2="265.40" stroke="#111" stroke-width="2.4"/>
<g stroke="#8e8e8e" stroke-width="1.05">
<rect x="409.35" y="219.15" width="3.1" height="3.1" fill="#fff"/>
<rect x="403.65" y="234.05" width="3.1" height="3.1" fill="#fff"/>
<rect x="409.45" y="231.95" width="3.1" height="3.1" fill="#fff"/>
<rect x="409.45" y="238.85" width="3.1" height="3.1" fill="#fff"/>
<rect x="415.05" y="236.75" width="3.1" height="3.1" fill="#fff"/>
<rect x="409.45" y="247.85" width="3.1" height="3.1" fill="#fff"/>
<rect x="406.05" y="250.35" width="3.1" height="3.1" fill="#fff"/>
<rect x="408.05" y="250.35" width="3.1" height="3.1" fill="#fff"/>
<rect x="410.05" y="250.35" width="3.1" height="3.1" fill="#fff"/>
<rect x="412.05" y="250.35" width="3.1" height="3.1" fill="#fff"/>
<rect x="403.05" y="252.15" width="3.1" height="3.1" fill="none"/>
<rect x="405.05" y="252.15" width="3.1" height="3.1" fill="none"/>
<rect x="407.05" y="252.15" width="3.1" height="3.1" fill="none"/>
<rect x="409.05" y="252.15" width="3.1" height="3.1" fill="none"/>
<rect x="411.05" y="252.15" width="3.1" height="3.1" fill="none"/>
<rect x="413.05" y="252.15" width="3.1" height="3.1" fill="none"/>
<rect x="415.05" y="252.15" width="3.1" height="3.1" fill="none"/>
<rect x="417.05" y="252.15" width="3.1" height="3.1" fill="none"/>
<rect x="400.05" y="253.95" width="3.1" height="3.1" fill="none"/>
<rect x="402.05" y="253.95" width="3.1" height="3.1" fill="none"/>
<rect x="404.05" y="253.95" width="3.1" height="3.1" fill="none"/>
<rect x="406.05" y="253.95" width="3.1" height="3.1" fill="none"/>
<rect x="408.05" y="253.95" width="3.1" height="3.1" fill="none"/>
<rect x="410.05" y="253.95" width="3.1" height="3.1" fill="none"/>
<rect x="412.05" y="253.95" width="3.1" height="3.1" fill="none"/>
<rect x="414.05" y="253.95" width="3.1" height="3.1" fill="none"/>
<rect x="416.05" y="253.95" width="3.1" height="3.1" fill="none"/>
<rect x="418.05" y="253.95" width="3.1" height="3.1" fill="none"/>
<rect x="401.05" y="255.85" width="3.1" height="3.1" fill="#8e8e8e"/>
<rect x="403.05" y="255.85" width="3.1" height="3.1" fill="#8e8e8e"/>
<rect x="405.05" y="255.85" width="3.1" height="3.1" fill="#8e8e8e"/>
<rect x="407.05" y="255.85" width="3.1" height="3.1" fill="#8e8e8e"/>
<rect x="409.05" y="255.85" width="3.1" height="3.1" fill="#8e8e8e"/>
<rect x="411.05" y="255.85" width="3.1" height="3.1" fill="#8e8e8e"/>
<rect x="413.05" y="255.85" width="3.1" height="3.1" fill="#8e8e8e"/>
<rect x="415.05" y="255.85" width="3.1" height="3.1" fill="#8e8e8e"/>
<rect x="417.05" y="255.85" width="3.1" height="3.1" fill="#8e8e8e"/>
<rect x="419.05" y="255.85" width="3.1" height="3.1" fill="#8e8e8e"/>
<rect x="400.05" y="257.75" width="3.1" height="3.1" fill="#8e8e8e"/>
<rect x="402.05" y="257.75" width="3.1" height="3.1" fill="#8e8e8e"/>
<rect x="404.05" y="257.75" width="3.1" height="3.1" fill="#8e8e8e"/>
<rect x="406.05" y="257.75" width="3.1" height="3.1" fill="#8e8e8e"/>
<rect x="408.05" y="257.75" width="3.1" height="3.1" fill="#8e8e8e"/>
<rect x="410.05" y="257.75" width="3.1" height="3.1" fill="#8e8e8e"/>
<rect x="412.05" y="257.75" width="3.1" height="3.1" fill="#8e8e8e"/>
<rect x="414.05" y="257.75" width="3.1" height="3.1" fill="#8e8e8e"/>
<rect x="416.05" y="257.75" width="3.1" height="3.1" fill="#8e8e8e"/>
<rect x="418.05" y="257.75" width="3.1" height="3.1" fill="#8e8e8e"/>
<rect x="401.05" y="259.65" width="3.1" height="3.1" fill="#8e8e8e"/>
<rect x="403.05" y="259.65" width="3.1" height="3.1" fill="#8e8e8e"/>
<rect x="405.05" y="259.65" width="3.1" height="3.1" fill="#8e8e8e"/>
<rect x="407.05" y="259.65" width="3.1" height="3.1" fill="#8e8e8e"/>
<rect x="409.05" y="259.65" width="3.1" height="3.1" fill="#8e8e8e"/>
<rect x="411.05" y="259.65" width="3.1" height="3.1" fill="#8e8e8e"/>
<rect x="413.05" y="259.65" width="3.1" height="3.1" fill="#8e8e8e"/>
<rect x="415.05" y="259.65" width="3.1" height="3.1" fill="#8e8e8e"/>
<rect x="417.05" y="259.65" width="3.1" height="3.1" fill="#8e8e8e"/>
<rect x="419.05" y="259.65" width="3.1" height="3.1" fill="#8e8e8e"/>
<rect x="400.05" y="261.55" width="3.1" height="3.1" fill="#8e8e8e"/>
<rect x="402.05" y="261.55" width="3.1" height="3.1" fill="#8e8e8e"/>
<rect x="404.05" y="261.55" width="3.1" height="3.1" fill="#8e8e8e"/>
<rect x="406.05" y="261.55" width="3.1" height="3.1" fill="#8e8e8e"/>
<rect x="408.05" y="261.55" width="3.1" height="3.1" fill="#8e8e8e"/>
<rect x="410.05" y="261.55" width="3.1" height="3.1" fill="#8e8e8e"/>
<rect x="412.05" y="261.55" width="3.1" height="3.1" fill="#8e8e8e"/>
<rect x="414.05" y="261.55" width="3.1" height="3.1" fill="#8e8e8e"/>
<rect x="416.05" y="261.55" width="3.1" height="3.1" fill="#8e8e8e"/>
<rect x="418.05" y="261.55" width="3.1" height="3.1" fill="#8e8e8e"/>
<rect x="401.05" y="263.45" width="3.1" height="3.1" fill="#8e8e8e"/>
<rect x="403.05" y="263.45" width="3.1" height="3.1" fill="#8e8e8e"/>
<rect x="405.05" y="263.45" width="3.1" height="3.1" fill="#8e8e8e"/>
<rect x="407.05" y="263.45" width="3.1" height="3.1" fill="#8e8e8e"/>
<rect x="409.05" y="263.45" width="3.1" height="3.1" fill="#8e8e8e"/>
<rect x="411.05" y="263.45" width="3.1" height="3.1" fill="#8e8e8e"/>
<rect x="413.05" y="263.45" width="3.1" height="3.1" fill="#8e8e8e"/>
<rect x="415.05" y="263.45" width="3.1" height="3.1" fill="#8e8e8e"/>
<rect x="417.05" y="263.45" width="3.1" height="3.1" fill="#8e8e8e"/>
<rect x="419.05" y="263.45" width="3.1" height="3.1" fill="#8e8e8e"/>
<rect x="400.05" y="265.35" width="3.1" height="3.1" fill="#8e8e8e"/>
<rect x="402.05" y="265.35" width="3.1" height="3.1" fill="#8e8e8e"/>
<rect x="404.05" y="265.35" width="3.1" height="3.1" fill="#8e8e8e"/>
<rect x="406.05" y="265.35" width="3.1" height="3.1" fill="#8e8e8e"/>
<rect x="408.05" y="265.35" width="3.1" height="3.1" fill="#8e8e8e"/>
<rect x="410.05" y="265.35" width="3.1" height="3.1" fill="#8e8e8e"/>
<rect x="412.05" y="265.35" width="3.1" height="3.1" fill="#8e8e8e"/>
<rect x="414.05" y="265.35" width="3.1" height="3.1" fill="#8e8e8e"/>
<rect x="416.05" y="265.35" width="3.1" height="3.1" fill="#8e8e8e"/>
<rect x="418.05" y="265.35" width="3.1" height="3.1" fill="#8e8e8e"/>
<rect x="401.05" y="267.25" width="3.1" height="3.1" fill="#8e8e8e"/>
<rect x="403.05" y="267.25" width="3.1" height="3.1" fill="#8e8e8e"/>
<rect x="405.05" y="267.25" width="3.1" height="3.1" fill="#8e8e8e"/>
<rect x="407.05" y="267.25" width="3.1" height="3.1" fill="#8e8e8e"/>
<rect x="409.05" y="267.25" width="3.1" height="3.1" fill="#8e8e8e"/>
<rect x="411.05" y="267.25" width="3.1" height="3.1" fill="#8e8e8e"/>
<rect x="413.05" y="267.25" width="3.1" height="3.1" fill="#8e8e8e"/>
<rect x="415.05" y="267.25" width="3.1" height="3.1" fill="#8e8e8e"/>
<rect x="417.05" y="267.25" width="3.1" height="3.1" fill="#8e8e8e"/>
<rect x="419.05" y="267.25" width="3.1" height="3.1" fill="#8e8e8e"/>
<rect x="400.05" y="269.15" width="3.1" height="3.1" fill="#8e8e8e"/>
<rect x="402.05" y="269.15" width="3.1" height="3.1" fill="#8e8e8e"/>
<rect x="404.05" y="269.15" width="3.1" height="3.1" fill="#8e8e8e"/>
<rect x="406.05" y="269.15" width="3.1" height="3.1" fill="#8e8e8e"/>
<rect x="408.05" y="269.15" width="3.1" height="3.1" fill="#8e8e8e"/>
<rect x="410.05" y="269.15" width="3.1" height="3.1" fill="#8e8e8e"/>
<rect x="412.05" y="269.15" width="3.1" height="3.1" fill="#8e8e8e"/>
<rect x="414.05" y="269.15" width="3.1" height="3.1" fill="#8e8e8e"/>
<rect x="416.05" y="269.15" width="3.1" height="3.1" fill="#8e8e8e"/>
<rect x="418.05" y="269.15" width="3.1" height="3.1" fill="#8e8e8e"/>
<rect x="402.05" y="271.05" width="3.1" height="3.1" fill="#8e8e8e"/>
<rect x="404.05" y="271.05" width="3.1" height="3.1" fill="#8e8e8e"/>
<rect x="406.05" y="271.05" width="3.1" height="3.1" fill="#8e8e8e"/>
<rect x="408.05" y="271.05" width="3.1" height="3.1" fill="#8e8e8e"/>
<rect x="410.05" y="271.05" width="3.1" height="3.1" fill="#8e8e8e"/>
<rect x="412.05" y="271.05" width="3.1" height="3.1" fill="#8e8e8e"/>
<rect x="414.05" y="271.05" width="3.1" height="3.1" fill="#8e8e8e"/>
<rect x="416.05" y="271.05" width="3.1" height="3.1" fill="#8e8e8e"/>
<rect x="418.05" y="271.05" width="3.1" height="3.1" fill="#8e8e8e"/>
<rect x="402.05" y="272.75" width="3.1" height="3.1" fill="#8e8e8e"/>
<rect x="404.05" y="272.75" width="3.1" height="3.1" fill="#8e8e8e"/>
<rect x="406.05" y="272.75" width="3.1" height="3.1" fill="#8e8e8e"/>
<rect x="408.05" y="272.75" width="3.1" height="3.1" fill="#8e8e8e"/>
<rect x="410.05" y="272.75" width="3.1" height="3.1" fill="#8e8e8e"/>
<rect x="412.05" y="272.75" width="3.1" height="3.1" fill="#8e8e8e"/>
<rect x="414.05" y="272.75" width="3.1" height="3.1" fill="#8e8e8e"/>
<rect x="416.05" y="272.75" width="3.1" height="3.1" fill="#8e8e8e"/>
<rect x="405.05" y="274.05" width="3.1" height="3.1" fill="#8e8e8e"/>
<rect x="407.05" y="274.05" width="3.1" height="3.1" fill="#8e8e8e"/>
<rect x="409.05" y="274.05" width="3.1" height="3.1" fill="#8e8e8e"/>
<rect x="411.05" y="274.05" width="3.1" height="3.1" fill="#8e8e8e"/>
<rect x="413.05" y="274.05" width="3.1" height="3.1" fill="#8e8e8e"/>
<rect x="415.05" y="274.05" width="3.1" height="3.1" fill="#8e8e8e"/>
</g>
<line x1="400.20" y1="264.80" x2="422.20" y2="264.80" stroke="#222" stroke-width="1.0"/>
<line x1="405.60" y1="264.80" x2="416.60" y2="264.80" stroke="#111" stroke-width="2.4"/>
<g stroke="#8e8e8e" stroke-width="1.05">
<path d="M446.70 247.90L448.40 250.88L445.00 250.88Z" fill="#fff"/>
<path d="M441.80 253.00L443.50 255.97L440.10 255.97Z" fill="#fff"/>
<path d="M452.60 253.00L454.30 255.97L450.90 255.97Z" fill="#fff"/>
<path d="M446.90 253.20L448.60 256.18L445.20 256.18Z" fill="#fff"/>
<path d="M446.70 265.10L448.40 268.07L445.00 268.07Z" fill="#fff"/>
<path d="M446.70 276.50L448.40 279.47L445.00 279.47Z" fill="#fff"/>
</g>
<line x1="435.20" y1="260.10" x2="458.20" y2="260.10" stroke="#222" stroke-width="1.2"/>
<line x1="446.70" y1="256.20" x2="446.70" y2="263.30" stroke="#222" stroke-width="1.0"/>
<line x1="438.70" y1="256.20" x2="454.30" y2="256.20" stroke="#222" stroke-width="1.0"/>
<line x1="441.80" y1="263.30" x2="451.20" y2="263.30" stroke="#222" stroke-width="1.0"/>
<g stroke="#8e8e8e" stroke-width="1.05">
<path d="M479.40 191.80L481.30 193.70L479.40 195.60L477.50 193.70Z" fill="#fff"/>
<path d="M485.10 195.00L487.00 196.90L485.10 198.80L483.20 196.90Z" fill="#fff"/>
<path d="M479.40 207.00L481.30 208.90L479.40 210.80L477.50 208.90Z" fill="#fff"/>
<path d="M485.50 205.90L487.40 207.80L485.50 209.70L483.60 207.80Z" fill="#fff"/>
<path d="M479.40 211.80L481.30 213.70L479.40 215.60L477.50 213.70Z" fill="#fff"/>
<path d="M485.10 213.50L487.00 215.40L485.10 217.30L483.20 215.40Z" fill="#fff"/>
<path d="M482.40 232.10L484.30 234.00L482.40 235.90L480.50 234.00Z" fill="#fff"/>
<path d="M491.40 233.70L493.30 235.60L491.40 237.50L489.50 235.60Z" fill="#fff"/>
<path d="M472.90 235.90L474.80 237.80L472.90 239.70L471.00 237.80Z" fill="#fff"/>
<path d="M487.10 236.90L489.00 238.80L487.10 240.70L485.20 238.80Z" fill="#fff"/>
<path d="M477.90 238.00L479.80 239.90L477.90 241.80L476.00 239.90Z" fill="#fff"/>
<path d="M482.40 238.70L484.30 240.60L482.40 242.50L480.50 240.60Z" fill="#fff"/>
<path d="M491.40 239.60L493.30 241.50L491.40 243.40L489.50 241.50Z" fill="#fff"/>
<path d="M474.00 240.70L475.90 242.60L474.00 244.50L472.10 242.60Z" fill="#fff"/>
<path d="M486.80 241.50L488.70 243.40L486.80 245.30L484.90 243.40Z" fill="#fff"/>
<path d="M479.60 242.10L481.50 244.00L479.60 245.90L477.70 244.00Z" fill="#fff"/>
<path d="M490.40 243.10L492.30 245.00L490.40 246.90L488.50 245.00Z" fill="#fff"/>
<path d="M474.35 244.50L476.45 246.60L474.35 248.70L472.25 246.60Z" fill="#8e8e8e"/>
<path d="M476.25 244.50L478.35 246.60L476.25 248.70L474.15 246.60Z" fill="#8e8e8e"/>
<path d="M478.15 244.50L480.25 246.60L478.15 248.70L476.05 246.60Z" fill="#8e8e8e"/>
<path d="M480.05 244.50L482.15 246.60L480.05 248.70L477.95 246.60Z" fill="#8e8e8e"/>
<path d="M481.95 244.50L484.05 246.60L481.95 248.70L479.85 246.60Z" fill="#8e8e8e"/>
<path d="M483.85 244.50L485.95 246.60L483.85 248.70L481.75 246.60Z" fill="#8e8e8e"/>
<path d="M485.75 244.50L487.85 246.60L485.75 248.70L483.65 246.60Z" fill="#8e8e8e"/>
<path d="M487.65 244.50L489.75 246.60L487.65 248.70L485.55 246.60Z" fill="#8e8e8e"/>
<path d="M489.55 244.50L491.65 246.60L489.55 248.70L487.45 246.60Z" fill="#8e8e8e"/>
<path d="M474.30 245.57L476.40 247.67L474.30 249.77L472.20 247.67Z" fill="#8e8e8e"/>
<path d="M476.20 245.57L478.30 247.67L476.20 249.77L474.10 247.67Z" fill="#8e8e8e"/>
<path d="M478.10 245.57L480.20 247.67L478.10 249.77L476.00 247.67Z" fill="#8e8e8e"/>
<path d="M480.00 245.57L482.10 247.67L480.00 249.77L477.90 247.67Z" fill="#8e8e8e"/>
<path d="M481.90 245.57L484.00 247.67L481.90 249.77L479.80 247.67Z" fill="#8e8e8e"/>
<path d="M483.80 245.57L485.90 247.67L483.80 249.77L481.70 247.67Z" fill="#8e8e8e"/>
<path d="M485.70 245.57L487.80 247.67L485.70 249.77L483.60 247.67Z" fill="#8e8e8e"/>
<path d="M487.60 245.57L489.70 247.67L487.60 249.77L485.50 247.67Z" fill="#8e8e8e"/>
<path d="M489.50 245.57L491.60 247.67L489.50 249.77L487.40 247.67Z" fill="#8e8e8e"/>
<path d="M491.40 245.57L493.50 247.67L491.40 249.77L489.30 247.67Z" fill="#8e8e8e"/>
<path d="M474.35 246.65L476.45 248.75L474.35 250.85L472.25 248.75Z" fill="#8e8e8e"/>
<path d="M476.25 246.65L478.35 248.75L476.25 250.85L474.15 248.75Z" fill="#8e8e8e"/>
<path d="M478.15 246.65L480.25 248.75L478.15 250.85L476.05 248.75Z" fill="#8e8e8e"/>
<path d="M480.05 246.65L482.15 248.75L480.05 250.85L477.95 248.75Z" fill="#8e8e8e"/>
<path d="M481.95 246.65L484.05 248.75L481.95 250.85L479.85 248.75Z" fill="#8e8e8e"/>
<path d="M483.85 246.65L485.95 248.75L483.85 250.85L481.75 248.75Z" fill="#8e8e8e"/>
<path d="M485.75 246.65L487.85 248.75L485.75 250.85L483.65 248.75Z" fill="#8e8e8e"/>
<path d="M487.65 246.65L489.75 248.75L487.65 250.85L485.55 248.75Z" fill="#8e8e8e"/>
<path d="M489.55 246.65L491.65 248.75L489.55 250.85L487.45 248.75Z" fill="#8e8e8e"/>
<path d="M477.15 247.72L479.25 249.82L477.15 251.92L475.05 249.82Z" fill="#8e8e8e"/>
<path d="M479.05 247.72L481.15 249.82L479.05 251.92L476.95 249.82Z" fill="#8e8e8e"/>
<path d="M480.95 247.72L483.05 249.82L480.95 251.92L478.85 249.82Z" fill="#8e8e8e"/>
<path d="M482.85 247.72L484.95 249.82L482.85 251.92L480.75 249.82Z" fill="#8e8e8e"/>
<path d="M484.75 247.72L486.85 249.82L484.75 251.92L482.65 249.82Z" fill="#8e8e8e"/>
<path d="M486.65 247.72L488.75 249.82L486.65 251.92L484.55 249.82Z" fill="#8e8e8e"/>
<path d="M488.55 247.72L490.65 249.82L488.55 251.92L486.45 249.82Z" fill="#8e8e8e"/>
<path d="M477.20 248.80L479.30 250.90L477.20 253.00L475.10 250.90Z" fill="#8e8e8e"/>
<path d="M479.10 248.80L481.20 250.90L479.10 253.00L477.00 250.90Z" fill="#8e8e8e"/>
<path d="M481.00 248.80L483.10 250.90L481.00 253.00L478.90 250.90Z" fill="#8e8e8e"/>
<path d="M482.90 248.80L485.00 250.90L482.90 253.00L480.80 250.90Z" fill="#8e8e8e"/>
<path d="M484.80 248.80L486.90 250.90L484.80 253.00L482.70 250.90Z" fill="#8e8e8e"/>
<path d="M486.70 248.80L488.80 250.90L486.70 253.00L484.60 250.90Z" fill="#8e8e8e"/>
<path d="M476.20 249.87L478.30 251.97L476.20 254.07L474.10 251.97Z" fill="#8e8e8e"/>
<path d="M478.10 249.87L480.20 251.97L478.10 254.07L476.00 251.97Z" fill="#8e8e8e"/>
<path d="M480.00 249.87L482.10 251.97L480.00 254.07L477.90 251.97Z" fill="#8e8e8e"/>
<path d="M481.90 249.87L484.00 251.97L481.90 254.07L479.80 251.97Z" fill="#8e8e8e"/>
<path d="M483.80 249.87L485.90 251.97L483.80 254.07L481.70 251.97Z" fill="#8e8e8e"/>
<path d="M485.70 249.87L487.80 251.97L485.70 254.07L483.60 251.97Z" fill="#8e8e8e"/>
<path d="M487.60 249.87L489.70 251.97L487.60 254.07L485.50 251.97Z" fill="#8e8e8e"/>
<path d="M489.50 249.87L491.60 251.97L489.50 254.07L487.40 251.97Z" fill="#8e8e8e"/>
<path d="M473.40 250.95L475.50 253.05L473.40 255.15L471.30 253.05Z" fill="#8e8e8e"/>
<path d="M475.30 250.95L477.40 253.05L475.30 255.15L473.20 253.05Z" fill="#8e8e8e"/>
<path d="M477.20 250.95L479.30 253.05L477.20 255.15L475.10 253.05Z" fill="#8e8e8e"/>
<path d="M479.10 250.95L481.20 253.05L479.10 255.15L477.00 253.05Z" fill="#8e8e8e"/>
<path d="M481.00 250.95L483.10 253.05L481.00 255.15L478.90 253.05Z" fill="#8e8e8e"/>
<path d="M482.90 250.95L485.00 253.05L482.90 255.15L480.80 253.05Z" fill="#8e8e8e"/>
<path d="M484.80 250.95L486.90 253.05L484.80 255.15L482.70 253.05Z" fill="#8e8e8e"/>
<path d="M486.70 250.95L488.80 253.05L486.70 255.15L484.60 253.05Z" fill="#8e8e8e"/>
<path d="M488.60 250.95L490.70 253.05L488.60 255.15L486.50 253.05Z" fill="#8e8e8e"/>
<path d="M490.50 250.95L492.60 253.05L490.50 255.15L488.40 253.05Z" fill="#8e8e8e"/>
<path d="M473.35 252.02L475.45 254.12L473.35 256.22L471.25 254.12Z" fill="#8e8e8e"/>
<path d="M475.25 252.02L477.35 254.12L475.25 256.22L473.15 254.12Z" fill="#8e8e8e"/>
<path d="M477.15 252.02L479.25 254.12L477.15 256.22L475.05 254.12Z" fill="#8e8e8e"/>
<path d="M479.05 252.02L481.15 254.12L479.05 256.22L476.95 254.12Z" fill="#8e8e8e"/>
<path d="M480.95 252.02L483.05 254.12L480.95 256.22L478.85 254.12Z" fill="#8e8e8e"/>
<path d="M482.85 252.02L484.95 254.12L482.85 256.22L480.75 254.12Z" fill="#8e8e8e"/>
<path d="M484.75 252.02L486.85 254.12L484.75 256.22L482.65 254.12Z" fill="#8e8e8e"/>
<path d="M486.65 252.02L488.75 254.12L486.65 256.22L484.55 254.12Z" fill="#8e8e8e"/>
<path d="M488.55 252.02L490.65 254.12L488.55 256.22L486.45 254.12Z" fill="#8e8e8e"/>
<path d="M490.45 252.02L492.55 254.12L490.45 256.22L488.35 254.12Z" fill="#8e8e8e"/>
<path d="M492.35 252.02L494.45 254.12L492.35 256.22L490.25 254.12Z" fill="#8e8e8e"/>
<path d="M474.35 253.10L476.45 255.20L474.35 257.30L472.25 255.20Z" fill="#8e8e8e"/>
<path d="M476.25 253.10L478.35 255.20L476.25 257.30L474.15 255.20Z" fill="#8e8e8e"/>
<path d="M478.15 253.10L480.25 255.20L478.15 257.30L476.05 255.20Z" fill="#8e8e8e"/>
<path d="M480.05 253.10L482.15 255.20L480.05 257.30L477.95 255.20Z" fill="#8e8e8e"/>
<path d="M481.95 253.10L484.05 255.20L481.95 257.30L479.85 255.20Z" fill="#8e8e8e"/>
<path d="M483.85 253.10L485.95 255.20L483.85 257.30L481.75 255.20Z" fill="#8e8e8e"/>
<path d="M485.75 253.10L487.85 255.20L485.75 257.30L483.65 255.20Z" fill="#8e8e8e"/>
<path d="M487.65 253.10L489.75 255.20L487.65 257.30L485.55 255.20Z" fill="#8e8e8e"/>
<path d="M489.55 253.10L491.65 255.20L489.55 257.30L487.45 255.20Z" fill="#8e8e8e"/>
<path d="M477.15 254.17L479.25 256.27L477.15 258.37L475.05 256.27Z" fill="#8e8e8e"/>
<path d="M479.05 254.17L481.15 256.27L479.05 258.37L476.95 256.27Z" fill="#8e8e8e"/>
<path d="M480.95 254.17L483.05 256.27L480.95 258.37L478.85 256.27Z" fill="#8e8e8e"/>
<path d="M482.85 254.17L484.95 256.27L482.85 258.37L480.75 256.27Z" fill="#8e8e8e"/>
<path d="M484.75 254.17L486.85 256.27L484.75 258.37L482.65 256.27Z" fill="#8e8e8e"/>
<path d="M486.65 254.17L488.75 256.27L486.65 258.37L484.55 256.27Z" fill="#8e8e8e"/>
<path d="M488.55 254.17L490.65 256.27L488.55 258.37L486.45 256.27Z" fill="#8e8e8e"/>
<path d="M477.20 255.25L479.30 257.35L477.20 259.45L475.10 257.35Z" fill="#8e8e8e"/>
<path d="M479.10 255.25L481.20 257.35L479.10 259.45L477.00 257.35Z" fill="#8e8e8e"/>
<path d="M481.00 255.25L483.10 257.35L481.00 259.45L478.90 257.35Z" fill="#8e8e8e"/>
<path d="M482.90 255.25L485.00 257.35L482.90 259.45L480.80 257.35Z" fill="#8e8e8e"/>
<path d="M484.80 255.25L486.90 257.35L484.80 259.45L482.70 257.35Z" fill="#8e8e8e"/>
<path d="M486.70 255.25L488.80 257.35L486.70 259.45L484.60 257.35Z" fill="#8e8e8e"/>
<path d="M476.20 256.32L478.30 258.42L476.20 260.52L474.10 258.42Z" fill="#8e8e8e"/>
<path d="M478.10 256.32L480.20 258.42L478.10 260.52L476.00 258.42Z" fill="#8e8e8e"/>
<path d="M480.00 256.32L482.10 258.42L480.00 260.52L477.90 258.42Z" fill="#8e8e8e"/>
<path d="M481.90 256.32L484.00 258.42L481.90 260.52L479.80 258.42Z" fill="#8e8e8e"/>
<path d="M483.80 256.32L485.90 258.42L483.80 260.52L481.70 258.42Z" fill="#8e8e8e"/>
<path d="M485.70 256.32L487.80 258.42L485.70 260.52L483.60 258.42Z" fill="#8e8e8e"/>
<path d="M487.60 256.32L489.70 258.42L487.60 260.52L485.50 258.42Z" fill="#8e8e8e"/>
<path d="M489.50 256.32L491.60 258.42L489.50 260.52L487.40 258.42Z" fill="#8e8e8e"/>
<path d="M473.40 257.40L475.50 259.50L473.40 261.60L471.30 259.50Z" fill="#8e8e8e"/>
<path d="M475.30 257.40L477.40 259.50L475.30 261.60L473.20 259.50Z" fill="#8e8e8e"/>
<path d="M477.20 257.40L479.30 259.50L477.20 261.60L475.10 259.50Z" fill="#8e8e8e"/>
<path d="M479.10 257.40L481.20 259.50L479.10 261.60L477.00 259.50Z" fill="#8e8e8e"/>
<path d="M481.00 257.40L483.10 259.50L481.00 261.60L478.90 259.50Z" fill="#8e8e8e"/>
<path d="M482.90 257.40L485.00 259.50L482.90 261.60L480.80 259.50Z" fill="#8e8e8e"/>
<path d="M484.80 257.40L486.90 259.50L484.80 261.60L482.70 259.50Z" fill="#8e8e8e"/>
<path d="M486.70 257.40L488.80 259.50L486.70 261.60L484.60 259.50Z" fill="#8e8e8e"/>
<path d="M488.60 257.40L490.70 259.50L488.60 261.60L486.50 259.50Z" fill="#8e8e8e"/>
<path d="M490.50 257.40L492.60 259.50L490.50 261.60L488.40 259.50Z" fill="#8e8e8e"/>
<path d="M473.35 258.47L475.45 260.57L473.35 262.67L471.25 260.57Z" fill="#8e8e8e"/>
<path d="M475.25 258.47L477.35 260.57L475.25 262.67L473.15 260.57Z" fill="#8e8e8e"/>
<path d="M477.15 258.47L479.25 260.57L477.15 262.67L475.05 260.57Z" fill="#8e8e8e"/>
<path d="M479.05 258.47L481.15 260.57L479.05 262.67L476.95 260.57Z" fill="#8e8e8e"/>
<path d="M480.95 258.47L483.05 260.57L480.95 262.67L478.85 260.57Z" fill="#8e8e8e"/>
<path d="M482.85 258.47L484.95 260.57L482.85 262.67L480.75 260.57Z" fill="#8e8e8e"/>
<path d="M484.75 258.47L486.85 260.57L484.75 262.67L482.65 260.57Z" fill="#8e8e8e"/>
<path d="M486.65 258.47L488.75 260.57L486.65 262.67L484.55 260.57Z" fill="#8e8e8e"/>
<path d="M488.55 258.47L490.65 260.57L488.55 262.67L486.45 260.57Z" fill="#8e8e8e"/>
<path d="M490.45 258.47L492.55 260.57L490.45 262.67L488.35 260.57Z" fill="#8e8e8e"/>
<path d="M492.35 258.47L494.45 260.57L492.35 262.67L490.25 260.57Z" fill="#8e8e8e"/>
<path d="M474.35 259.55L476.45 261.65L474.35 263.75L472.25 261.65Z" fill="#8e8e8e"/>
<path d="M476.25 259.55L478.35 261.65L476.25 263.75L474.15 261.65Z" fill="#8e8e8e"/>
<path d="M478.15 259.55L480.25 261.65L478.15 263.75L476.05 261.65Z" fill="#8e8e8e"/>
<path d="M480.05 259.55L482.15 261.65L480.05 263.75L477.95 261.65Z" fill="#8e8e8e"/>
<path d="M481.95 259.55L484.05 261.65L481.95 263.75L479.85 261.65Z" fill="#8e8e8e"/>
<path d="M483.85 259.55L485.95 261.65L483.85 263.75L481.75 261.65Z" fill="#8e8e8e"/>
<path d="M485.75 259.55L487.85 261.65L485.75 263.75L483.65 261.65Z" fill="#8e8e8e"/>
<path d="M487.65 259.55L489.75 261.65L487.65 263.75L485.55 261.65Z" fill="#8e8e8e"/>
<path d="M489.55 259.55L491.65 261.65L489.55 263.75L487.45 261.65Z" fill="#8e8e8e"/>
<path d="M477.15 260.62L479.25 262.72L477.15 264.82L475.05 262.72Z" fill="#8e8e8e"/>
<path d="M479.05 260.62L481.15 262.72L479.05 264.82L476.95 262.72Z" fill="#8e8e8e"/>
<path d="M480.95 260.62L483.05 262.72L480.95 264.82L478.85 262.72Z" fill="#8e8e8e"/>
<path d="M482.85 260.62L484.95 262.72L482.85 264.82L480.75 262.72Z" fill="#8e8e8e"/>
<path d="M484.75 260.62L486.85 262.72L484.75 264.82L482.65 262.72Z" fill="#8e8e8e"/>
<path d="M486.65 260.62L488.75 262.72L486.65 264.82L484.55 262.72Z" fill="#8e8e8e"/>
<path d="M488.55 260.62L490.65 262.72L488.55 264.82L486.45 262.72Z" fill="#8e8e8e"/>
<path d="M477.20 261.70L479.30 263.80L477.20 265.90L475.10 263.80Z" fill="#8e8e8e"/>
<path d="M479.10 261.70L481.20 263.80L479.10 265.90L477.00 263.80Z" fill="#8e8e8e"/>
<path d="M481.00 261.70L483.10 263.80L481.00 265.90L478.90 263.80Z" fill="#8e8e8e"/>
<path d="M482.90 261.70L485.00 263.80L482.90 265.90L480.80 263.80Z" fill="#8e8e8e"/>
<path d="M484.80 261.70L486.90 263.80L484.80 265.90L482.70 263.80Z" fill="#8e8e8e"/>
<path d="M486.70 261.70L488.80 263.80L486.70 265.90L484.60 263.80Z" fill="#8e8e8e"/>
<path d="M476.20 262.77L478.30 264.87L476.20 266.97L474.10 264.87Z" fill="#8e8e8e"/>
<path d="M478.10 262.77L480.20 264.87L478.10 266.97L476.00 264.87Z" fill="#8e8e8e"/>
<path d="M480.00 262.77L482.10 264.87L480.00 266.97L477.90 264.87Z" fill="#8e8e8e"/>
<path d="M481.90 262.77L484.00 264.87L481.90 266.97L479.80 264.87Z" fill="#8e8e8e"/>
<path d="M483.80 262.77L485.90 264.87L483.80 266.97L481.70 264.87Z" fill="#8e8e8e"/>
<path d="M485.70 262.77L487.80 264.87L485.70 266.97L483.60 264.87Z" fill="#8e8e8e"/>
<path d="M487.60 262.77L489.70 264.87L487.60 266.97L485.50 264.87Z" fill="#8e8e8e"/>
<path d="M489.50 262.77L491.60 264.87L489.50 266.97L487.40 264.87Z" fill="#8e8e8e"/>
<path d="M473.40 263.85L475.50 265.95L473.40 268.05L471.30 265.95Z" fill="#8e8e8e"/>
<path d="M475.30 263.85L477.40 265.95L475.30 268.05L473.20 265.95Z" fill="#8e8e8e"/>
<path d="M477.20 263.85L479.30 265.95L477.20 268.05L475.10 265.95Z" fill="#8e8e8e"/>
<path d="M479.10 263.85L481.20 265.95L479.10 268.05L477.00 265.95Z" fill="#8e8e8e"/>
<path d="M481.00 263.85L483.10 265.95L481.00 268.05L478.90 265.95Z" fill="#8e8e8e"/>
<path d="M482.90 263.85L485.00 265.95L482.90 268.05L480.80 265.95Z" fill="#8e8e8e"/>
<path d="M484.80 263.85L486.90 265.95L484.80 268.05L482.70 265.95Z" fill="#8e8e8e"/>
<path d="M486.70 263.85L488.80 265.95L486.70 268.05L484.60 265.95Z" fill="#8e8e8e"/>
<path d="M488.60 263.85L490.70 265.95L488.60 268.05L486.50 265.95Z" fill="#8e8e8e"/>
<path d="M490.50 263.85L492.60 265.95L490.50 268.05L488.40 265.95Z" fill="#8e8e8e"/>
<path d="M473.35 264.92L475.45 267.02L473.35 269.12L471.25 267.02Z" fill="#8e8e8e"/>
<path d="M475.25 264.92L477.35 267.02L475.25 269.12L473.15 267.02Z" fill="#8e8e8e"/>
<path d="M477.15 264.92L479.25 267.02L477.15 269.12L475.05 267.02Z" fill="#8e8e8e"/>
<path d="M479.05 264.92L481.15 267.02L479.05 269.12L476.95 267.02Z" fill="#8e8e8e"/>
<path d="M480.95 264.92L483.05 267.02L480.95 269.12L478.85 267.02Z" fill="#8e8e8e"/>
<path d="M482.85 264.92L484.95 267.02L482.85 269.12L480.75 267.02Z" fill="#8e8e8e"/>
<path d="M484.75 264.92L486.85 267.02L484.75 269.12L482.65 267.02Z" fill="#8e8e8e"/>
<path d="M486.65 264.92L488.75 267.02L486.65 269.12L484.55 267.02Z" fill="#8e8e8e"/>
<path d="M488.55 264.92L490.65 267.02L488.55 269.12L486.45 267.02Z" fill="#8e8e8e"/>
<path d="M490.45 264.92L492.55 267.02L490.45 269.12L488.35 267.02Z" fill="#8e8e8e"/>
<path d="M492.35 264.92L494.45 267.02L492.35 269.12L490.25 267.02Z" fill="#8e8e8e"/>
<path d="M474.35 266.00L476.45 268.10L474.35 270.20L472.25 268.10Z" fill="#8e8e8e"/>
<path d="M476.25 266.00L478.35 268.10L476.25 270.20L474.15 268.10Z" fill="#8e8e8e"/>
<path d="M478.15 266.00L480.25 268.10L478.15 270.20L476.05 268.10Z" fill="#8e8e8e"/>
<path d="M480.05 266.00L482.15 268.10L480.05 270.20L477.95 268.10Z" fill="#8e8e8e"/>
<path d="M481.95 266.00L484.05 268.10L481.95 270.20L479.85 268.10Z" fill="#8e8e8e"/>
<path d="M483.85 266.00L485.95 268.10L483.85 270.20L481.75 268.10Z" fill="#8e8e8e"/>
<path d="M485.75 266.00L487.85 268.10L485.75 270.20L483.65 268.10Z" fill="#8e8e8e"/>
<path d="M487.65 266.00L489.75 268.10L487.65 270.20L485.55 268.10Z" fill="#8e8e8e"/>
<path d="M489.55 266.00L491.65 268.10L489.55 270.20L487.45 268.10Z" fill="#8e8e8e"/>
<path d="M477.15 267.07L479.25 269.17L477.15 271.27L475.05 269.17Z" fill="#8e8e8e"/>
<path d="M479.05 267.07L481.15 269.17L479.05 271.27L476.95 269.17Z" fill="#8e8e8e"/>
<path d="M480.95 267.07L483.05 269.17L480.95 271.27L478.85 269.17Z" fill="#8e8e8e"/>
<path d="M482.85 267.07L484.95 269.17L482.85 271.27L480.75 269.17Z" fill="#8e8e8e"/>
<path d="M484.75 267.07L486.85 269.17L484.75 271.27L482.65 269.17Z" fill="#8e8e8e"/>
<path d="M486.65 267.07L488.75 269.17L486.65 271.27L484.55 269.17Z" fill="#8e8e8e"/>
<path d="M488.55 267.07L490.65 269.17L488.55 271.27L486.45 269.17Z" fill="#8e8e8e"/>
<path d="M477.20 268.15L479.30 270.25L477.20 272.35L475.10 270.25Z" fill="#8e8e8e"/>
<path d="M479.10 268.15L481.20 270.25L479.10 272.35L477.00 270.25Z" fill="#8e8e8e"/>
<path d="M481.00 268.15L483.10 270.25L481.00 272.35L478.90 270.25Z" fill="#8e8e8e"/>
<path d="M482.90 268.15L485.00 270.25L482.90 272.35L480.80 270.25Z" fill="#8e8e8e"/>
<path d="M484.80 268.15L486.90 270.25L484.80 272.35L482.70 270.25Z" fill="#8e8e8e"/>
<path d="M486.70 268.15L488.80 270.25L486.70 272.35L484.60 270.25Z" fill="#8e8e8e"/>
<path d="M476.20 269.22L478.30 271.32L476.20 273.42L474.10 271.32Z" fill="#8e8e8e"/>
<path d="M478.10 269.22L480.20 271.32L478.10 273.42L476.00 271.32Z" fill="#8e8e8e"/>
<path d="M480.00 269.22L482.10 271.32L480.00 273.42L477.90 271.32Z" fill="#8e8e8e"/>
<path d="M481.90 269.22L484.00 271.32L481.90 273.42L479.80 271.32Z" fill="#8e8e8e"/>
<path d="M483.80 269.22L485.90 271.32L483.80 273.42L481.70 271.32Z" fill="#8e8e8e"/>
<path d="M485.70 269.22L487.80 271.32L485.70 273.42L483.60 271.32Z" fill="#8e8e8e"/>
<path d="M487.60 269.22L489.70 271.32L487.60 273.42L485.50 271.32Z" fill="#8e8e8e"/>
<path d="M489.50 269.22L491.60 271.32L489.50 273.42L487.40 271.32Z" fill="#8e8e8e"/>
<path d="M473.40 270.30L475.50 272.40L473.40 274.50L471.30 272.40Z" fill="#8e8e8e"/>
<path d="M475.30 270.30L477.40 272.40L475.30 274.50L473.20 272.40Z" fill="#8e8e8e"/>
<path d="M477.20 270.30L479.30 272.40L477.20 274.50L475.10 272.40Z" fill="#8e8e8e"/>
<path d="M479.10 270.30L481.20 272.40L479.10 274.50L477.00 272.40Z" fill="#8e8e8e"/>
<path d="M481.00 270.30L483.10 272.40L481.00 274.50L478.90 272.40Z" fill="#8e8e8e"/>
<path d="M482.90 270.30L485.00 272.40L482.90 274.50L480.80 272.40Z" fill="#8e8e8e"/>
<path d="M484.80 270.30L486.90 272.40L484.80 274.50L482.70 272.40Z" fill="#8e8e8e"/>
<path d="M486.70 270.30L488.80 272.40L486.70 274.50L484.60 272.40Z" fill="#8e8e8e"/>
<path d="M488.60 270.30L490.70 272.40L488.60 274.50L486.50 272.40Z" fill="#8e8e8e"/>
<path d="M490.50 270.30L492.60 272.40L490.50 274.50L488.40 272.40Z" fill="#8e8e8e"/>
<path d="M474.30 271.37L476.40 273.47L474.30 275.57L472.20 273.47Z" fill="#8e8e8e"/>
<path d="M476.20 271.37L478.30 273.47L476.20 275.57L474.10 273.47Z" fill="#8e8e8e"/>
<path d="M478.10 271.37L480.20 273.47L478.10 275.57L476.00 273.47Z" fill="#8e8e8e"/>
<path d="M480.00 271.37L482.10 273.47L480.00 275.57L477.90 273.47Z" fill="#8e8e8e"/>
<path d="M481.90 271.37L484.00 273.47L481.90 275.57L479.80 273.47Z" fill="#8e8e8e"/>
<path d="M483.80 271.37L485.90 273.47L483.80 275.57L481.70 273.47Z" fill="#8e8e8e"/>
<path d="M485.70 271.37L487.80 273.47L485.70 275.57L483.60 273.47Z" fill="#8e8e8e"/>
<path d="M487.60 271.37L489.70 273.47L487.60 275.57L485.50 273.47Z" fill="#8e8e8e"/>
<path d="M489.50 271.37L491.60 273.47L489.50 275.57L487.40 273.47Z" fill="#8e8e8e"/>
<path d="M491.40 271.37L493.50 273.47L491.40 275.57L489.30 273.47Z" fill="#8e8e8e"/>
<path d="M476.25 272.45L478.35 274.55L476.25 276.65L474.15 274.55Z" fill="#8e8e8e"/>
<path d="M478.15 272.45L480.25 274.55L478.15 276.65L476.05 274.55Z" fill="#8e8e8e"/>
<path d="M480.05 272.45L482.15 274.55L480.05 276.65L477.95 274.55Z" fill="#8e8e8e"/>
<path d="M481.95 272.45L484.05 274.55L481.95 276.65L479.85 274.55Z" fill="#8e8e8e"/>
<path d="M483.85 272.45L485.95 274.55L483.85 276.65L481.75 274.55Z" fill="#8e8e8e"/>
<path d="M485.75 272.45L487.85 274.55L485.75 276.65L483.65 274.55Z" fill="#8e8e8e"/>
<path d="M487.65 272.45L489.75 274.55L487.65 276.65L485.55 274.55Z" fill="#8e8e8e"/>
<path d="M480.00 273.52L482.10 275.62L480.00 277.72L477.90 275.62Z" fill="#8e8e8e"/>
<path d="M481.90 273.52L484.00 275.62L481.90 277.72L479.80 275.62Z" fill="#8e8e8e"/>
<path d="M483.80 273.52L485.90 275.62L483.80 277.72L481.70 275.62Z" fill="#8e8e8e"/>
<path d="M485.70 273.52L487.80 275.62L485.70 277.72L483.60 275.62Z" fill="#8e8e8e"/>
</g>
<line x1="470.60" y1="259.20" x2="494.40" y2="259.20" stroke="#222" stroke-width="1.0"/>
<line x1="475.40" y1="259.20" x2="489.80" y2="259.20" stroke="#111" stroke-width="2.6"/>
<text x="374.70" y="276.00" font-size="7.1" font-weight="bold" text-anchor="middle" fill="#2a2a2a" stroke="#2a2a2a" stroke-width="0.3">0.89</text>
<text x="411.10" y="276.00" font-size="7.1" font-weight="bold" text-anchor="middle" fill="#2a2a2a" stroke="#2a2a2a" stroke-width="0.3">0.93</text>
<text x="446.70" y="276.00" font-size="7.1" font-weight="bold" text-anchor="middle" fill="#2a2a2a" stroke="#2a2a2a" stroke-width="0.3">1.25</text>
<text x="482.40" y="276.00" font-size="7.1" font-weight="bold" text-anchor="middle" fill="#2a2a2a" stroke="#2a2a2a" stroke-width="0.3">1.32</text>
<path d="M376.5 190.1V187.5H484.5V190.1" fill="none" stroke="#333" stroke-width="1"/>
<path d="M411.9 208.1V205.5H484.5V208.1" fill="none" stroke="#333" stroke-width="1"/>
<path d="M450.6 223.3V220.7H484.5V223.3" fill="none" stroke="#333" stroke-width="1"/>
<text x="403.30" y="184.60" font-size="6.6" font-weight="bold" text-anchor="start" fill="#222" stroke="#222" stroke-width="0.3"><tspan font-style="italic">P</tspan> = 0.0020</text>
<text x="430.60" y="202.70" font-size="6.6" font-weight="bold" text-anchor="start" fill="#222" stroke="#222" stroke-width="0.3"><tspan font-style="italic">P</tspan> = 0.0002</text>
<text x="454.90" y="218.40" font-size="6.6" font-weight="bold" text-anchor="start" fill="#222" stroke="#222" stroke-width="0.3"><tspan font-style="italic">P</tspan> &gt; 0.5</text>
<text x="0" y="0" transform="translate(372.30,287.20) rotate(-40)" font-size="6.7" font-weight="bold" text-anchor="end" fill="#1a1a1a" stroke="#1a1a1a" stroke-width="0.3">Oligodendroglioma</text>
<text x="0" y="0" transform="translate(370.30,300.80) rotate(-40)" font-size="6.3" font-weight="bold" text-anchor="end" fill="#1a1a1a" stroke="#1a1a1a" stroke-width="0.3">(<tspan font-style="italic">n</tspan> = 49)</text>
<text x="0" y="0" transform="translate(410.40,286.00) rotate(-40)" font-size="6.7" font-weight="bold" text-anchor="end" fill="#1a1a1a" stroke="#1a1a1a" stroke-width="0.3">Astrocytoma</text>
<text x="0" y="0" transform="translate(411.30,296.00) rotate(-40)" font-size="6.3" font-weight="bold" text-anchor="end" fill="#1a1a1a" stroke="#1a1a1a" stroke-width="0.3">(<tspan font-style="italic">n</tspan> = 104)</text>
<text x="0" y="0" transform="translate(444.10,286.60) rotate(-40)" font-size="6.7" font-weight="bold" text-anchor="end" fill="#1a1a1a" stroke="#1a1a1a" stroke-width="0.3">Mixed</text>
<text x="0" y="0" transform="translate(450.30,293.10) rotate(-40)" font-size="6.3" font-weight="bold" text-anchor="end" fill="#1a1a1a" stroke="#1a1a1a" stroke-width="0.3">(<tspan font-style="italic">n</tspan> = 6)</text>
<text x="0" y="0" transform="translate(477.00,286.40) rotate(-40)" font-size="6.7" font-weight="bold" text-anchor="end" fill="#1a1a1a" stroke="#1a1a1a" stroke-width="0.3">GBM</text>
<text x="0" y="0" transform="translate(488.20,289.20) rotate(-40)" font-size="6.3" font-weight="bold" text-anchor="end" fill="#1a1a1a" stroke="#1a1a1a" stroke-width="0.3">(<tspan font-style="italic">n</tspan> = 185)</text>
<rect x="0.5" y="0.5" width="519" height="340" fill="none" stroke="#5a5a5a" stroke-width="1"/>
</svg></body></html>
